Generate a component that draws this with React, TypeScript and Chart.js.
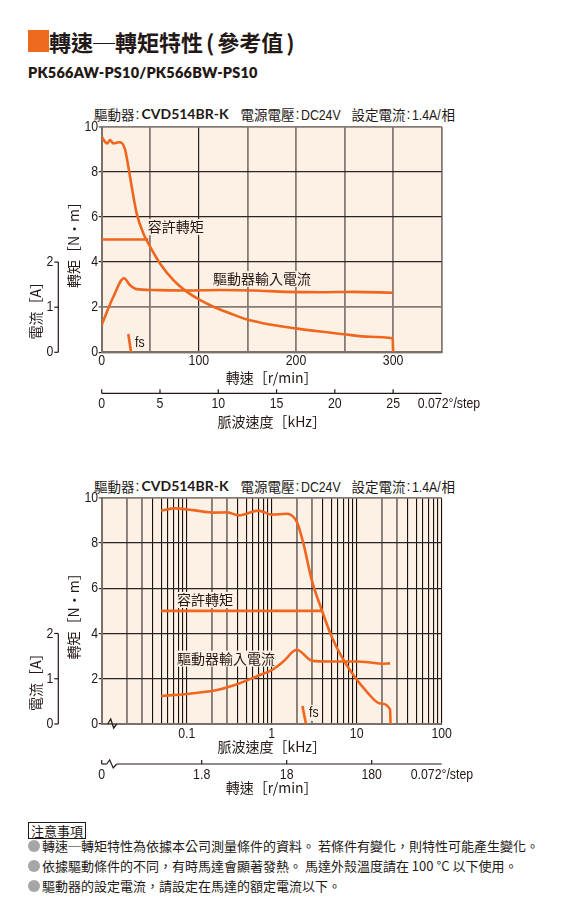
import React, { useEffect, useRef } from "react";
import { Chart, registerables } from "chart.js";

Chart.register(...registerables);

// ---------- data: upper chart (speed in r/min) ----------
const topSpeedGrid = [0, 50, 100, 150, 200, 250, 300, 350];
const topSpeedLabels = [0, 100, 200, 300];
const torqueTicks = [0, 2, 4, 6, 8, 10];
const currentTicks = [0, 1, 2];
const topPulseTicks = [0, 5, 10, 15, 20, 25]; // kHz

const topPulloutSpeed = [0, 3.4, 5.8, 8.6, 12, 15.4, 18.9, 24, 27.4, 30.9, 36, 42.9, 48, 60, 73.8, 87.5, 101, 115, 132, 149, 166, 200, 225, 249, 276, 299.5, 300];
const topPulloutTorque = [9.56, 9.33, 9.26, 9.41, 9.26, 9.29, 9.31, 9.0, 8.23, 7.34, 6.16, 5.27, 4.83, 3.94, 3.2, 2.69, 2.32, 2.02, 1.73, 1.46, 1.29, 1.06, 0.92, 0.8, 0.69, 0.62, 0];
const topAllowSpeed = [0, 48];
const topAllowTorque = [5, 5];
const topCurrentSpeed = [0, 12, 23, 29, 36, 53, 88, 122, 156, 190, 225, 259, 300];
const topCurrent = [0.61, 1.23, 1.64, 1.49, 1.4, 1.38, 1.37, 1.38, 1.37, 1.34, 1.33, 1.34, 1.32];
const topFsSpeed = [27.4, 30.2];
const topFsTorque = [0.81, 0];

// ---------- data: lower chart (pulse speed in kHz, log) ----------
const logDecades = [0.01, 0.1, 1, 10];
const logMantissas = [1, 2, 3, 4, 5, 6, 7, 8, 9];
const botFreqLabels = [0.1, 1, 10, 100];
const botSpeedTicks = [1.8, 18, 180]; // r/min

const botPulloutFreq = [0.05, 0.073, 0.12, 0.21, 0.3, 0.41, 0.7, 1.0, 1.5, 1.97, 2.36, 2.96, 3.88, 5.08, 6.66, 9.14, 13.1, 18.8, 24.7, 25];
const botPulloutTorque = [9.43, 9.53, 9.45, 9.34, 9.35, 9.22, 9.43, 9.25, 9.29, 8.94, 7.98, 6.36, 5.04, 3.86, 2.97, 2.16, 1.43, 0.91, 0.65, 0];
const botAllowFreq = [0.05, 3.9];
const botAllowTorque = [5, 5];
const botCurrentFreq = [0.05, 0.12, 0.25, 0.42, 0.66, 1.0, 1.37, 1.97, 2.96, 4.9, 10, 14.4, 19.5, 24.7];
const botCurrent = [0.62, 0.68, 0.77, 0.9, 1.05, 1.19, 1.38, 1.64, 1.4, 1.38, 1.38, 1.36, 1.33, 1.34];
const botFsFreq = [2.3, 2.53];
const botFsTorque = [0.8, 0];

const RPM_PER_KHZ = 12; // 0.072°/step -> 5000 step/rev

const notes = [
  "轉速─轉矩特性為依據本公司測量條件的資料。 若條件有變化，則特性可能產生變化。",
  "依據驅動條件的不同，有時馬達會顯著發熱。 馬達外殼溫度請在 100 °C 以下使用。",
  "驅動器的設定電流，請設定在馬達的額定電流以下。",
];

// ---------- style ----------
const CJK = '"Noto Sans CJK TC", "Noto Sans CJK SC", sans-serif';
const SANS = '"Liberation Sans", Arial, sans-serif';
const ORANGE = "#f0661e";
const INK = "#231815";
const PEACH = "#fdf0e4";
const GRID_DARK = "#2b2623";
const GRID_GRAY = "#857c75";
const BORDER = "#7a716a";
const SQUEEZE = 0.82;

const zip = (xs: number[], ys: number[]) => xs.map((x, i) => ({ x, y: ys[i] }));

function drawLine(ctx: CanvasRenderingContext2D, x1: number, y1: number, x2: number, y2: number) {
  ctx.beginPath();
  ctx.moveTo(x1, y1);
  ctx.lineTo(x2, y2);
  ctx.stroke();
}

function drawText(ctx: CanvasRenderingContext2D, s: string, x: number, y: number, font: string, align: CanvasTextAlign = "center") {
  ctx.font = font;
  ctx.fillStyle = INK;
  ctx.textAlign = align;
  ctx.textBaseline = "middle";
  ctx.fillText(s, x, y);
}

// narrow (condensed) numeric text
function drawNarrow(ctx: CanvasRenderingContext2D, s: string, x: number, y: number, align: CanvasTextAlign = "center") {
  ctx.save();
  ctx.translate(x, y);
  ctx.scale(SQUEEZE, 1);
  drawText(ctx, s, 0, 0, `15px ${SANS}`, align);
  ctx.restore();
}

function drawRotText(ctx: CanvasRenderingContext2D, s: string, x: number, y: number, font: string) {
  ctx.save();
  ctx.translate(x, y);
  ctx.rotate(-Math.PI / 2);
  drawText(ctx, s, 0, 0, font, "center");
  ctx.restore();
}

const F_CJK = `14px ${CJK}`;

function drawLabel(ctx: CanvasRenderingContext2D, s: string, x: number, y: number, narrow: boolean) {
  ctx.font = narrow ? `15px ${SANS}` : F_CJK;
  const w = ctx.measureText(s).width * (narrow ? SQUEEZE : 1);
  ctx.fillStyle = PEACH;
  ctx.fillRect(x - 2, y - 8, w + 4, 16);
  if (narrow) drawNarrow(ctx, s, x, y, "left");
  else drawText(ctx, s, x, y, F_CJK, "left");
}

function makeDecor(kind: "top" | "bottom", labels: { t: string; x: number; y: number; n: boolean }[]) {
  return {
    id: "decor-" + kind,
    beforeDraw(chart: any) {
      const { ctx, chartArea: a } = chart;
      ctx.save();
      ctx.fillStyle = PEACH;
      ctx.fillRect(a.left, a.top, a.right - a.left, a.bottom - a.top);
      ctx.restore();
    },
    beforeDatasetsDraw(chart: any) {
      const { ctx, scales } = chart;
      ctx.save();
      labels.forEach((l) => {
        drawLabel(ctx, l.t, scales.x.getPixelForValue(l.x), scales.y.getPixelForValue(l.y), l.n);
      });
      ctx.restore();
    },
    afterDraw(chart: any) {
      const { ctx, chartArea: a, scales } = chart;
      const x = scales.x;
      const y = scales.y;
      const yA = scales.yA;
      const cx = (a.left + a.right) / 2;
      ctx.save();
      ctx.strokeStyle = INK;
      ctx.lineWidth = 1.2;

      // torque tick labels
      torqueTicks.forEach((v) => drawNarrow(ctx, String(v), a.left - 3.5, y.getPixelForValue(v), "right"));

      // current axis (0..2 A)
      const ax = a.left - 43.4;
      drawLine(ctx, ax, yA.getPixelForValue(0), ax, yA.getPixelForValue(2));
      currentTicks.forEach((v) => {
        const py = yA.getPixelForValue(v);
        drawLine(ctx, ax - 4, py, ax, py);
        drawNarrow(ctx, String(v), ax - 5, py, "right");
      });
      drawRotText(ctx, "電流［A］", a.left - 65.7, (yA.getPixelForValue(0) + yA.getPixelForValue(2)) / 2, F_CJK);
      drawRotText(ctx, "轉矩［N·m］", a.left - 28.2, (a.top + a.bottom) / 2 + 2, F_CJK);

      if (kind === "top") {
        topSpeedLabels.forEach((v) => drawNarrow(ctx, String(v), x.getPixelForValue(v), a.bottom + 9));
        drawText(ctx, "轉速［r/min］", cx, a.bottom + 25, F_CJK);
        const ly = a.bottom + 41;
        drawLine(ctx, a.left, ly, a.right, ly);
        topPulseTicks.forEach((k) => {
          const px = x.getPixelForValue(k * RPM_PER_KHZ);
          drawLine(ctx, px, ly - 4, px, ly);
          drawNarrow(ctx, String(k), px, ly + 11);
        });
        drawNarrow(ctx, "0.072°/step", a.right - 24, ly + 11, "left");
        drawText(ctx, "脈波速度［kHz］", cx, a.bottom + 69, F_CJK);
      } else {
        botFreqLabels.forEach((v) => drawNarrow(ctx, String(v), x.getPixelForValue(v), a.bottom + 9.5));
        drawText(ctx, "脈波速度［kHz］", cx, a.bottom + 22.5, F_CJK);
        const ly = a.bottom + 40;
        drawLine(ctx, a.left, ly - 4, a.left, ly);
        drawLine(ctx, a.left, ly, a.left + 5, ly);
        ctx.beginPath();
        ctx.moveTo(a.left + 5, ly);
        ctx.lineTo(a.left + 8, ly - 4);
        ctx.lineTo(a.left + 11.5, ly + 4);
        ctx.lineTo(a.left + 15, ly);
        ctx.stroke();
        drawLine(ctx, a.left + 15, ly, a.right, ly);
        drawNarrow(ctx, "0", a.left, ly + 11);
        botSpeedTicks.forEach((r) => {
          const px = x.getPixelForValue(r / RPM_PER_KHZ);
          drawLine(ctx, px, ly - 4, px, ly);
          drawNarrow(ctx, String(r), px, ly + 11);
        });
        drawNarrow(ctx, "0.072°/step", a.right - 31, ly + 11, "left");
        drawText(ctx, "轉速［r/min］", cx, a.bottom + 64, F_CJK);
        // break mark on the plot's bottom edge
        ctx.lineWidth = 1.3;
        ctx.beginPath();
        ctx.moveTo(a.left + 6, a.bottom);
        ctx.lineTo(a.left + 9, a.bottom - 5);
        ctx.lineTo(a.left + 12, a.bottom + 4);
        ctx.lineTo(a.left + 15, a.bottom);
        ctx.stroke();
      }
      ctx.restore();
    },
  };
}

const lineStyle = { borderColor: ORANGE, borderWidth: 2.6, pointRadius: 0, fill: false };

function mantissa(v: number) {
  const e = Math.floor(Math.log10(v) + 1e-9);
  return Math.round(v / Math.pow(10, e));
}

function yScale(afterWidth: number, grayAt: number[]) {
  return {
    type: "linear",
    min: 0,
    max: 10,
    afterBuildTicks: (s: any) => {
      s.ticks = torqueTicks.map((v) => ({ value: v }));
    },
    ticks: { display: false },
    grid: {
      tickLength: 3,
      color: (c: any) => (c.tick && grayAt.includes(c.tick.value) ? GRID_GRAY : GRID_DARK),
      lineWidth: (c: any) => (c.tick && grayAt.includes(c.tick.value) ? 1.8 : 1.2),
    },
    border: { color: BORDER, width: 2 },
    afterFit: (s: any) => {
      s.width = afterWidth;
    },
  };
}

function topConfig(): any {
  return {
    type: "line",
    data: {
      datasets: [
        { data: zip(topPulloutSpeed, topPulloutTorque), yAxisID: "y", cubicInterpolationMode: "monotone", ...lineStyle },
        { data: zip(topAllowSpeed, topAllowTorque), yAxisID: "y", ...lineStyle },
        { data: zip(topCurrentSpeed, topCurrent), yAxisID: "yA", cubicInterpolationMode: "monotone", ...lineStyle },
        { data: zip(topFsSpeed, topFsTorque), yAxisID: "y", ...lineStyle },
      ],
    },
    options: {
      animation: false,
      responsive: true,
      maintainAspectRatio: false,
      events: [],
      layout: { padding: { left: 0, right: 122.3, top: 26.7, bottom: 0 } },
      plugins: { legend: { display: false }, tooltip: { enabled: false } },
      scales: {
        x: {
          type: "linear",
          min: 0,
          max: 350,
          afterBuildTicks: (s: any) => {
            s.ticks = topSpeedGrid.map((v) => ({ value: v }));
          },
          ticks: { display: false },
          grid: {
            drawTicks: false,
            color: (c: any) => (c.tick && c.tick.value === 100 ? GRID_DARK : GRID_GRAY),
            lineWidth: (c: any) => (c.tick && c.tick.value === 100 ? 1.2 : 1.8),
          },
          border: { color: BORDER, width: 2 },
          afterFit: (s: any) => {
            s.height = 87.7;
          },
        },
        y: yScale(101.7, [2, 10]),
        yA: { type: "linear", display: false, min: 0, max: 5 },
      },
    },
    plugins: [
      makeDecor("top", [
        { t: "容許轉矩", x: 47.5, y: 5.55, n: false },
        { t: "驅動器輸入電流", x: 114.6, y: 3.25, n: false },
        { t: "fs", x: 34.3, y: 0.43, n: true },
      ]),
    ],
  };
}

function bottomConfig(): any {
  const grid: number[] = [];
  logDecades.forEach((d) => logMantissas.forEach((m) => grid.push(Number((m * d).toPrecision(6)))));
  grid.push(100);
  return {
    type: "line",
    data: {
      datasets: [
        { data: zip(botPulloutFreq, botPulloutTorque), yAxisID: "y", cubicInterpolationMode: "monotone", ...lineStyle },
        { data: zip(botAllowFreq, botAllowTorque), yAxisID: "y", ...lineStyle },
        { data: zip(botCurrentFreq, botCurrent), yAxisID: "yA", cubicInterpolationMode: "monotone", ...lineStyle },
        { data: zip(botFsFreq, botFsTorque), yAxisID: "y", ...lineStyle },
      ],
    },
    options: {
      animation: false,
      responsive: true,
      maintainAspectRatio: false,
      events: [],
      layout: { padding: { left: 0, right: 122.3, top: 27.7, bottom: 0 } },
      plugins: { legend: { display: false }, tooltip: { enabled: false } },
      scales: {
        x: {
          type: "logarithmic",
          min: 0.01,
          max: 100,
          afterBuildTicks: (s: any) => {
            s.ticks = grid.map((v) => ({ value: v }));
          },
          ticks: { display: false },
          grid: {
            drawTicks: false,
            color: (c: any) => {
              const m = c.tick ? mantissa(c.tick.value) : 1;
              return m === 2 || m === 3 ? GRID_GRAY : "#141110";
            },
            lineWidth: (c: any) => {
              const m = c.tick ? mantissa(c.tick.value) : 1;
              return m === 2 || m === 3 ? 1.9 : 1.1;
            },
          },
          border: { color: BORDER, width: 2 },
          afterFit: (s: any) => {
            s.height = 86;
          },
        },
        y: yScale(101.7, [10]),
        yA: { type: "linear", display: false, min: 0, max: 5 },
      },
    },
    plugins: [
      makeDecor("bottom", [
        { t: "容許轉矩", x: 0.0769, y: 5.48, n: false },
        { t: "驅動器輸入電流", x: 0.0769, y: 2.89, n: false },
        { t: "fs", x: 2.75, y: 0.49, n: true },
      ]),
    ],
  };
}

function ChartBox({ top, height, config }: { top: number; height: number; config: () => any }) {
  const ref = useRef<HTMLCanvasElement | null>(null);
  useEffect(() => {
    if (!ref.current) return;
    const chart = new Chart(ref.current, config());
    return () => chart.destroy();
  }, [config]);
  return (
    <div style={{ position: "absolute", left: 0, top, width: 564, height }}>
      <canvas ref={ref} />
    </div>
  );
}

function Narrow({ text, w }: { text: string; w: number }) {
  return (
    <span style={{ display: "inline-block", width: w, whiteSpace: "nowrap", verticalAlign: "top" }}>
      <span
        style={{
          display: "inline-block",
          transform: `scaleX(${SQUEEZE})`,
          transformOrigin: "0 50%",
          fontFamily: SANS,
          fontSize: 15,
        }}
      >
        {text}
      </span>
    </span>
  );
}

function Colon() {
  return (
    <span style={{ display: "inline-block", width: 6, textAlign: "center", fontFamily: SANS, fontSize: 14, verticalAlign: "top" }}>:</span>
  );
}

function Header({ top }: { top: number }) {
  return (
    <div
      style={{
        position: "absolute",
        left: 94,
        top,
        height: 16,
        lineHeight: "16px",
        whiteSpace: "nowrap",
        fontFamily: CJK,
        fontSize: 13.5,
        color: INK,
      }}
    >
      <span style={{ verticalAlign: "top" }}>驅動器</span>
      <Colon />
      <span style={{ fontFamily: "Lato, sans-serif", fontWeight: 700, fontSize: 14, marginLeft: 1, verticalAlign: "top" }}>CVD514BR-K</span>
      <span style={{ marginLeft: 12, verticalAlign: "top" }}>電源電壓</span>
      <Colon />
      <Narrow text="DC24V" w={40} />
      <span style={{ marginLeft: 11, verticalAlign: "top" }}>設定電流</span>
      <Colon />
      <Narrow text="1.4A/" w={30} />
      <span style={{ verticalAlign: "top" }}>相</span>
    </div>
  );
}

export default function App() {
  return (
    <div
      style={{
        position: "absolute",
        left: 0,
        top: 0,
        width: 564,
        height: 920,
        background: "#ffffff",
        fontFamily: CJK,
        color: INK,
        overflow: "hidden",
      }}
    >
      <div style={{ position: "absolute", left: 28, top: 30, width: 20.5, height: 21.7, background: "#ee6a1c" }} />
      <div
        style={{
          position: "absolute",
          left: 49,
          top: 29,
          fontSize: 22,
          lineHeight: "24px",
          fontWeight: 700,
          whiteSpace: "nowrap",
          fontFamily: CJK,
        }}
      >
        轉速─轉矩特性<span style={{ margin: "0 3px" }}>(</span>參考值<span style={{ margin: "0 3px" }}>)</span>
      </div>
      <div
        style={{
          position: "absolute",
          left: 28,
          top: 64,
          fontSize: 14.5,
          lineHeight: "18px",
          fontWeight: 800,
          fontFamily: "Lato, sans-serif",
          letterSpacing: 0.2,
          whiteSpace: "nowrap",
        }}
      >
        PK566AW-PS10/PK566BW-PS10
      </div>

      <Header top={105.5} />
      <ChartBox top={100} height={340} config={topConfig} />

      <Header top={478} />
      <ChartBox top={470} height={340} config={bottomConfig} />

      <div
        style={{
          position: "absolute",
          left: 28,
          top: 822,
          border: "1px solid #231815",
          padding: "0 2px",
          fontSize: 13,
          lineHeight: "15px",
          whiteSpace: "nowrap",
        }}
      >
        注意事項
      </div>
      {notes.map((n, i) => (
        <div
          key={i}
          style={{
            position: "absolute",
            left: 28,
            top: 836 + i * 20,
            height: 20,
            lineHeight: "20px",
            fontSize: 13,
            whiteSpace: "nowrap",
            display: "flex",
            alignItems: "center",
          }}
        >
          <span
            style={{
              display: "inline-block",
              width: 12,
              height: 12,
              borderRadius: "50%",
              background: "#a6a6a6",
              marginRight: 2,
              flex: "none",
            }}
          />
          <span>{n}</span>
        </div>
      ))}
    </div>
  );
}
